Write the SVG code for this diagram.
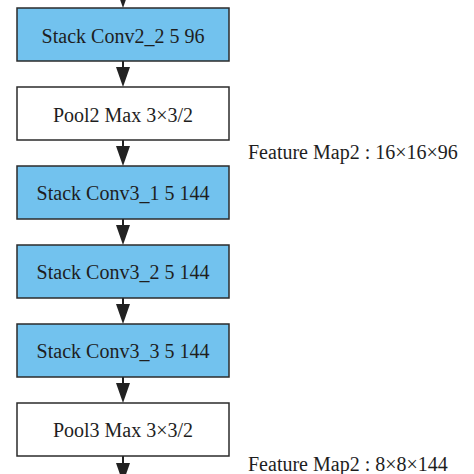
<svg xmlns="http://www.w3.org/2000/svg" width="474" height="474" viewBox="0 0 474 474">
<style>
.box{stroke:#2b2b2b;stroke-width:1.5}
.conv{fill:#72c2ee}
.pool{fill:#ffffff}
.t{font-family:"Liberation Serif","Times New Roman",serif;font-size:20px;fill:#1e1e1e}
.c{text-anchor:middle}
.ln{stroke:#222;stroke-width:2}
.ah{fill:#222}
</style>
<rect width="474" height="474" fill="#ffffff"/>
<g id="connectors">
<polygon class="ah" points="116,-12 130,-12 123,8"/>
<line class="ln" x1="123" y1="61" x2="123" y2="70"/>
<polygon class="ah" points="116,67 130,67 123,87"/>
<line class="ln" x1="123" y1="140" x2="123" y2="149"/>
<polygon class="ah" points="116,146 130,146 123,166"/>
<line class="ln" x1="123" y1="219" x2="123" y2="228"/>
<polygon class="ah" points="116,225 130,225 123,245"/>
<line class="ln" x1="123" y1="298" x2="123" y2="307"/>
<polygon class="ah" points="116,304 130,304 123,324"/>
<line class="ln" x1="123" y1="377" x2="123" y2="386"/>
<polygon class="ah" points="116,383 130,383 123,403"/>
<line class="ln" x1="123" y1="456" x2="123" y2="466"/>
<polygon class="ah" points="116,463 130,463 123,483"/>
</g>
<g id="conv2_2"><rect class="box conv" x="17" y="8" width="212" height="53"/><text class="t c" x="123" y="43">Stack Conv2_2 5 96</text></g>
<g id="pool2"><rect class="box pool" x="17" y="87" width="212" height="53"/><text class="t c" x="123" y="122">Pool2 Max 3×3/2</text></g>
<g id="conv3_1"><rect class="box conv" x="17" y="166" width="212" height="53"/><text class="t c" x="123" y="200">Stack Conv3_1 5 144</text></g>
<g id="conv3_2"><rect class="box conv" x="17" y="245" width="212" height="53"/><text class="t c" x="123" y="279">Stack Conv3_2 5 144</text></g>
<g id="conv3_3"><rect class="box conv" x="17" y="324" width="212" height="53"/><text class="t c" x="123" y="358">Stack Conv3_3 5 144</text></g>
<g id="pool3"><rect class="box pool" x="17" y="403" width="212" height="53"/><text class="t c" x="123" y="437">Pool3 Max 3×3/2</text></g>
<g id="fm2"><text class="t" x="248" y="159">Feature Map2 : 16×16×96</text></g>
<g id="fm3"><text class="t" x="248" y="471">Feature Map2 : 8×8×144</text></g>
</svg>
